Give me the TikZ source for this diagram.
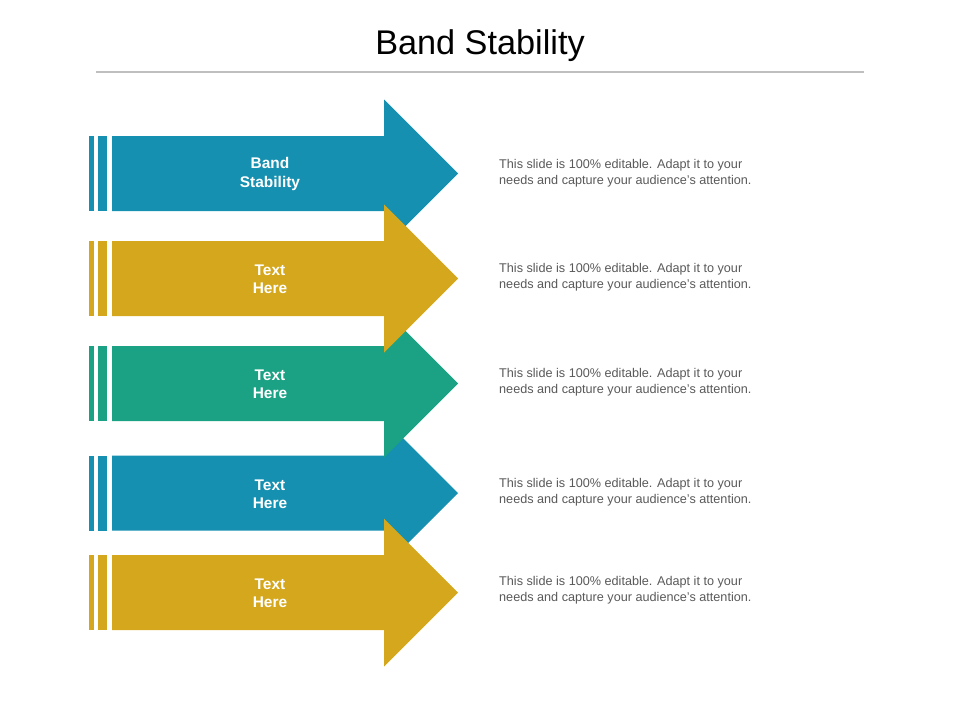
\documentclass[tikz,border=0pt]{standalone}
\usepackage{fontspec}
\setmainfont{Liberation Sans}
\usetikzlibrary{positioning}
\definecolor{bandblue}{HTML}{1590B0}
\definecolor{bandgold}{HTML}{D4A71C}
\definecolor{bandgreen}{HTML}{1BA285}
\definecolor{desc}{HTML}{595959}

\begin{document}
\begin{tikzpicture}[x=0.02cm,y=-0.02cm,
    label/.style={text=white, font=\bfseries\fontsize{8.8}{10.5}\selectfont, align=center},
    note/.style={text=desc, font=\fontsize{7.2}{9.4}\selectfont, align=left, anchor=west},
    rule/.style={draw=black!25, line width=0.6pt}]
        \useasboundingbox (0,0) rectangle (960,720);

        \node (title) at (480,46) {\fontsize{19.5}{22}\selectfont Band Stability};
        \coordinate (ruleL) at (96,72);
        \coordinate (ruleR) at (864,72);
        \draw [rule] (ruleL) -- (ruleR);

        % arrows, drawn in stacking order
        \foreach \c/\col in {173.5/bandblue, 493/bandblue, 383.5/bandgreen, 278.5/bandgold, 592.5/bandgold}
        {
            \fill [\col] (89,\c-37.5) rectangle (94,\c+37.5);
            \fill [\col] (98,\c-37.5) rectangle (107,\c+37.5);
            \fill [\col] (112,\c-37.5) -- (384,\c-37.5) -- (384,\c-74)
                -- (458,\c) -- (384,\c+74) -- (384,\c+37.5) -- (112,\c+37.5) -- cycle;
        }

        \node [label] (lab1) at (270,174) {Band\\Stability};
        \node [label] (lab2) at (270,279) {Text\\Here};
        \node [label] (lab3) at (270,384) {Text\\Here};
        \node [label] (lab4) at (270,494) {Text\\Here};
        \node [label] (lab5) at (270,593) {Text\\Here};

        \foreach \c/\n in {173/1, 277/2, 382/3, 492/4, 590/5}
            \node [note] (note\n) at (493,\c) {This slide is 100\% editable. Adapt it to your\\needs and capture your audience's attention.};
    \end{tikzpicture}
\end{document}
